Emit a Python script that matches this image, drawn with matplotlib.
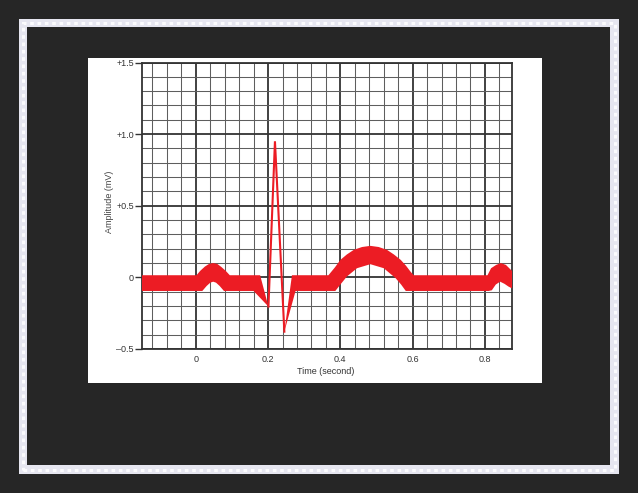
import matplotlib
matplotlib.use("Agg")
import matplotlib.pyplot as plt
from matplotlib.patches import Rectangle
import numpy as np

plt.rcParams['font.family'] = ['Liberation Sans', 'DejaVu Sans']

# ---- data ----
# band (thick trace) before the QRS: upper and lower edges
upper_pre_x = [-0.16, 0.002, 0.012, 0.025, 0.036, 0.048, 0.060, 0.071, 0.083, 0.094, 0.178, 0.201]
upper_pre_y = [0.015, 0.015, 0.045, 0.075, 0.093, 0.100, 0.093, 0.072, 0.045, 0.015, 0.015, -0.204]
lower_pre_x = [-0.16, 0.018, 0.030, 0.040, 0.048, 0.056, 0.066, 0.078, 0.160, 0.201]
lower_pre_y = [-0.095, -0.095, -0.060, -0.037, -0.030, -0.037, -0.060, -0.095, -0.095, -0.204]

# thin QRS spike: Q, R, S
qrs_x = [0.201, 0.219, 0.245]
qrs_y = [-0.204, 0.95, -0.379]

# band after the S wave: upper and lower edges (T wave and next P wave)
upper_post_x = [0.245, 0.266, 0.367, 0.385, 0.400, 0.418, 0.437, 0.460, 0.483, 0.506, 0.529,
                0.548, 0.567, 0.582, 0.594, 0.603, 0.807, 0.817, 0.831, 0.844, 0.858, 0.872, 0.885]
upper_post_y = [-0.379, 0.015, 0.015, 0.070, 0.122, 0.160, 0.192, 0.212, 0.220, 0.212, 0.192,
                0.160, 0.122, 0.080, 0.040, 0.015, 0.015, 0.064, 0.087, 0.100, 0.087, 0.052, 0.020]
lower_post_x = [0.245, 0.276, 0.386, 0.400, 0.418, 0.446, 0.483, 0.520, 0.553, 0.568, 0.581,
                0.810, 0.819, 0.830, 0.842, 0.854, 0.865, 0.885]
lower_post_y = [-0.379, -0.095, -0.095, -0.050, 0.006, 0.064, 0.092, 0.064, -0.006, -0.050, -0.095,
                -0.095, -0.090, -0.050, -0.030, -0.045, -0.064, -0.090]

x_ticks = [0, 0.2, 0.4, 0.6, 0.8]
x_labels = ["0", "0.2", "0.4", "0.6", "0.8"]
y_ticks = [-0.5, 0, 0.5, 1.0, 1.5]
y_labels = ["\u20130.5", "0", "+0.5", "+1.0", "+1.5"]

W, H = 638, 493
fig = plt.figure(figsize=(W / 100, H / 100), dpi=100)
fig.patch.set_facecolor('#262626')


def frect(x0, y0, x1, y1, **kw):
    return Rectangle((x0 / W, 1 - y1 / H), (x1 - x0) / W, (y1 - y0) / H,
                     transform=fig.transFigure, zorder=-10, **kw)


# outer decorative frame
fig.patches.append(frect(19, 19, 619, 474, facecolor='#e6e6f0', edgecolor='none'))
fig.patches.append(frect(23, 23, 615, 470, facecolor='none', edgecolor='#fbfbfd',
                         linewidth=2.2, linestyle=(0, (1.2, 1.2))))
fig.patches.append(frect(27, 27, 610, 465, facecolor='#262626', edgecolor='none'))
# white panel
fig.patches.append(frect(88.3, 57.5, 541.7, 383.3, facecolor='white', edgecolor='none'))

ax_l, ax_r, ax_t, ax_b = 142.3, 511.7, 62.5, 349.0
ax = fig.add_axes([ax_l / W, 1 - ax_b / H, (ax_r - ax_l) / W, (ax_b - ax_t) / H])
ax.set_facecolor('white')
ax.set_xlim(-0.148, 0.874)
ax.set_ylim(-0.5, 1.5)

# grid
ax.set_xticks(np.arange(-0.12, 0.88, 0.04), minor=True)
ax.set_yticks(np.arange(-0.5, 1.51, 0.1), minor=True)
ax.set_xticks(x_ticks)
ax.set_xticklabels(x_labels)
ax.set_yticks(y_ticks)
ax.set_yticklabels(y_labels)
ax.grid(which='minor', color='#5e5e5e', linewidth=0.75)
ax.grid(which='major', color='#333333', linewidth=1.3)
ax.set_axisbelow(True)

for s in ax.spines.values():
    s.set_color('#333333')
    s.set_linewidth(1.3)

ax.tick_params(axis='x', which='both', length=0, pad=4.5, labelsize=6.5, labelcolor='#333333')
ax.tick_params(axis='y', which='minor', length=0)
ax.tick_params(axis='y', which='major', length=5, width=1.0, color='#333333', pad=1,
               labelsize=6.5, labelcolor='#333333')

red = '#ec1c24'
ax.fill(np.concatenate([upper_pre_x, lower_pre_x[::-1]]),
        np.concatenate([upper_pre_y, lower_pre_y[::-1]]),
        color=red, linewidth=0, zorder=3)
ax.fill(np.concatenate([upper_post_x, lower_post_x[::-1]]),
        np.concatenate([upper_post_y, lower_post_y[::-1]]),
        color=red, linewidth=0, zorder=3)
ax.plot(qrs_x, qrs_y, color=red, linewidth=1.5, solid_joinstyle='miter', zorder=3)

fig.text(109 / W, 1 - 202 / H, "Amplitude (mV)", rotation=90, ha='center', va='center',
         fontsize=6.5, color='#444444')
fig.text(326 / W, 1 - 371 / H, "Time (second)", ha='center', va='center',
         fontsize=6.5, color='#333333')

fig.savefig("out.png", dpi=100, facecolor=fig.get_facecolor())
